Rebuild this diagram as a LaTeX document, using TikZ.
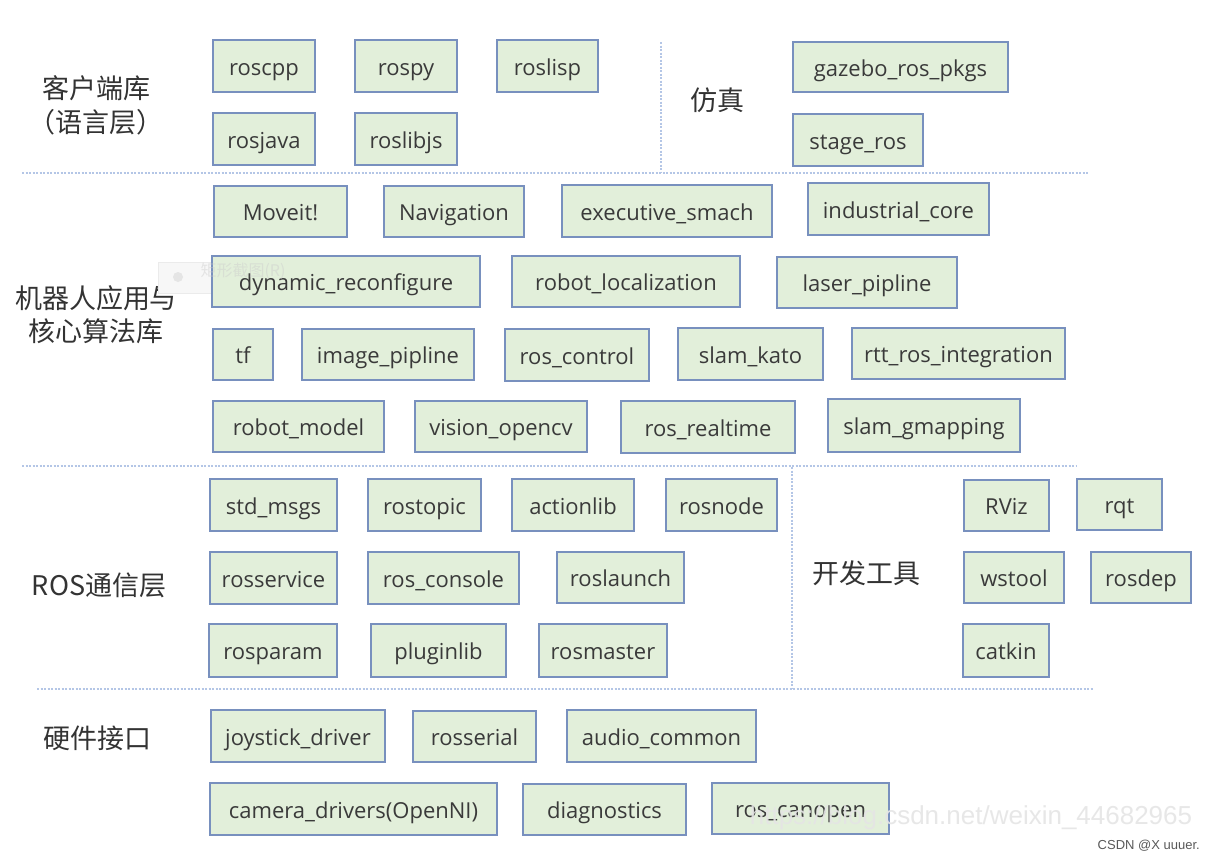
\documentclass[tikz,border=0pt]{standalone}
\usepackage{fontspec}
\newfontfamily\cjk{Noto Sans CJK SC}
\newfontfamily\bxf{Open Sans}
\newfontfamily\wmf{Liberation Sans}
\definecolor{boxfill}{HTML}{E2EFDA}
\definecolor{boxline}{HTML}{7890BE}
\definecolor{sepc}{HTML}{B4C6E6}
\definecolor{txt}{HTML}{3A3A3A}
\newcommand\pkgbox[6]{\node[pkg, minimum width=#4pt, minimum height=#5pt] (#1) at (#2,#3) {#6};}
\begin{document}
\begin{tikzpicture}[x=1pt,y=-1pt,
  pkg/.style={draw=boxline, fill=boxfill, line width=1.6pt, inner sep=0pt,
    font=\bxf\fontsize{22}{24}\selectfont, text=txt, text height=19pt, text depth=1pt},
  lay/.style={font=\cjk\fontsize{27}{30}\selectfont, text=black!80, inner sep=0pt},
  sepl/.style={draw=sepc, line width=1.3pt, dash pattern=on 2pt off 1.5pt}]
\useasboundingbox[fill=white] (0,0) rectangle (1215,862);

% separators
\draw[sepl] (22,173) -- (1088,173);
\draw[sepl] (661,42) -- (661,172);
\draw[sepl] (22,466) -- (1077,466);
\draw[sepl] (792,467) -- (792,688);
\draw[sepl] (37,689) -- (1093,689);

% layer labels
\node[lay] (l1a) at (96,88) {客户端库};
\node[lay] (l1b) at (96,122) {（语言层）};
\node[lay] (l1c) at (717,100) {仿真};
\node[lay] (l2a) at (96,298) {机器人应用与};
\node[lay] (l2b) at (96,331) {核心算法库};
\node[lay] (l3a) at (99,585) {ROS通信层};
\node[lay] (l3b) at (866,573) {开发工具};
\node[lay] (l4a) at (97,738) {硬件接口};

% faint screenshot-tool overlay (behind)
\node[draw=black!8, fill=black!3, minimum width=262pt, minimum height=31pt, inner sep=0pt] (ovl) at (289,277.5) {};
\node[circle, fill=black!10, minimum size=10pt, inner sep=0pt] (ovc) at (178,277) {};

% client libraries
\pkgbox{roscpp}{264}{66}{102}{52}{roscpp}
\pkgbox{rospy}{406}{66}{102}{52}{rospy}
\pkgbox{roslisp}{547.5}{66}{101}{52}{roslisp}
\pkgbox{rosjava}{264}{139}{102}{52}{rosjava}
\pkgbox{roslibjs}{406}{139}{102}{52}{roslibjs}
\pkgbox{gazebo}{900.5}{67}{215}{50}{gazebo\_ros\_pkgs}
\pkgbox{stage}{858}{140}{130}{52}{stage\_ros}

% applications
\pkgbox{moveit}{280.5}{211.5}{133}{51}{Moveit!}
\pkgbox{nav}{454}{211.5}{140}{51}{Navigation}
\pkgbox{smach}{667}{211}{210}{52}{executive\_smach}
\pkgbox{indus}{898.5}{209}{181}{52}{industrial\_core}
\pkgbox{dynrec}{346}{281.5}{268}{51}{dynamic\_reconfigure}
\pkgbox{robloc}{626}{281.5}{228}{51}{robot\_localization}
\pkgbox{laser}{867}{282.5}{180}{51}{laser\_pipline}
\pkgbox{tf}{243}{354.5}{60}{51}{tf}
\pkgbox{image}{388}{354.5}{172}{51}{image\_pipline}
\pkgbox{control}{577}{355}{144}{52}{ros\_control}
\pkgbox{kato}{750.5}{354}{145}{52}{slam\_kato}
\pkgbox{rtt}{958.5}{353.5}{213}{51}{rtt\_ros\_integration}
\pkgbox{model}{298.5}{426.5}{171}{51}{robot\_model}
\pkgbox{vision}{501}{426.5}{172}{51}{vision\_opencv}
\pkgbox{realtime}{708}{427}{174}{52}{ros\_realtime}
\pkgbox{gmap}{924}{425.5}{192}{53}{slam\_gmapping}

% communication
\pkgbox{stdmsgs}{273.5}{505}{127}{52}{std\_msgs}
\pkgbox{rostopic}{424.5}{505}{113}{52}{rostopic}
\pkgbox{actionlib}{573}{505}{122}{52}{actionlib}
\pkgbox{rosnode}{721.5}{505}{111}{52}{rosnode}
\pkgbox{rosservice}{273.5}{578}{127}{52}{rosservice}
\pkgbox{console}{443.5}{578}{151}{52}{ros\_console}
\pkgbox{roslaunch}{620.5}{577.5}{127}{51}{roslaunch}
\pkgbox{rosparam}{273}{650.5}{128}{53}{rosparam}
\pkgbox{pluginlib}{438.5}{650.5}{135}{53}{pluginlib}
\pkgbox{rosmaster}{603}{650.5}{128}{53}{rosmaster}

% dev tools
\pkgbox{rviz}{1006.5}{505.5}{85}{51}{RViz}
\pkgbox{rqt}{1119.5}{504.5}{85}{51}{rqt}
\pkgbox{wstool}{1014}{577.5}{100}{51}{wstool}
\pkgbox{rosdep}{1141}{577.5}{100}{51}{rosdep}
\pkgbox{catkin}{1006}{650.5}{86}{53}{catkin}

% hardware
\pkgbox{joystick}{298}{736}{174}{52}{joystick\_driver}
\pkgbox{rosserial}{474.5}{736.5}{123}{51}{rosserial}
\pkgbox{audio}{661.5}{736}{189}{52}{audio\_common}
\pkgbox{camera}{353.5}{809}{287}{52}{camera\_drivers(OpenNI)}
\pkgbox{diag}{604.5}{809.5}{163}{51}{diagnostics}
\pkgbox{canopen}{800.5}{808.5}{177}{51}{ros\_canopen}

% faint screenshot-tool overlay text
\node[font=\cjk\fontsize{16}{20}\selectfont, text=black!20, opacity=0.45, inner sep=0pt] (ovt) at (243,271) {矩形截图(R)};

% watermark
\node[font=\wmf\fontsize{26}{30}\selectfont, text=black!10, opacity=0.9, inner sep=0pt] (wm) at (971,818) {https://blog.csdn.net/weixin\_44682965};
\node[font=\wmf\fontsize{13}{15}\selectfont, text=black!65, anchor=east, inner sep=0pt] (csdn) at (1200,846) {CSDN @X uuuer.};
\end{tikzpicture}
\end{document}
